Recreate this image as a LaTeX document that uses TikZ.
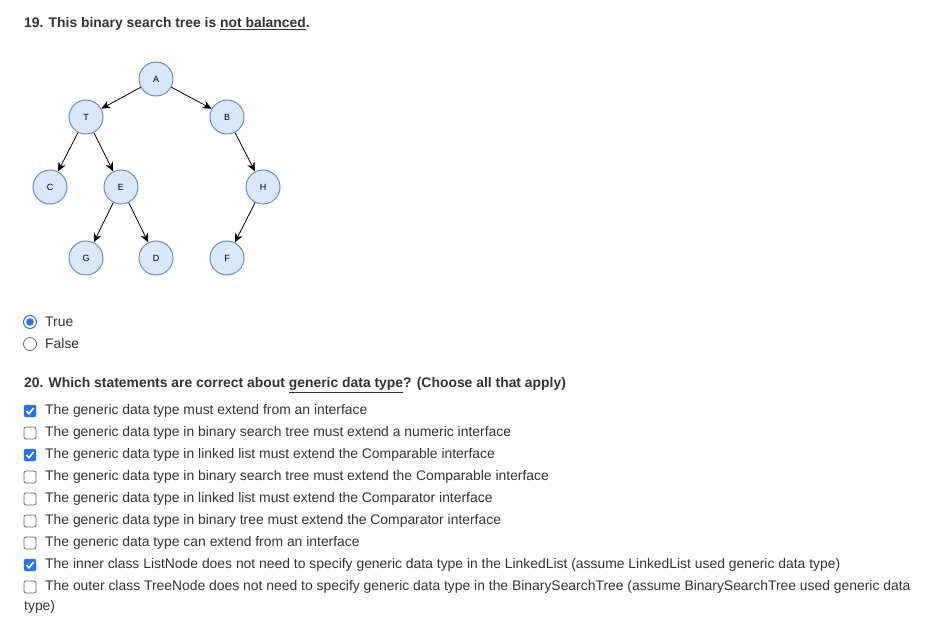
\documentclass[tikz,border=0pt]{standalone}
\usepackage{fontspec}
\setmainfont{Liberation Sans}
\usetikzlibrary{arrows.meta,calc}
\definecolor{txt}{HTML}{333333}
\definecolor{nfill}{HTML}{DAE8FC}
\definecolor{nline}{HTML}{6C8EBF}
\definecolor{chk}{HTML}{2A72E5}
\begin{document}
\begin{tikzpicture}[x=1pt,y=-1pt,
  tn/.style={circle,draw=nline,fill=nfill,minimum size=34pt,inner sep=0pt,line width=1pt,font=\fontsize{9}{10}\selectfont,text=black},
  ed/.style={-{Stealth[length=9pt,width=8pt]},black,line width=0.8pt},
  lbl/.style={anchor=west,inner sep=0pt,text=txt,font=\fontsize{13.9}{16}\selectfont},
  hd/.style={anchor=west,inner sep=0pt,text=txt,font=\fontsize{13.9}{16}\selectfont\bfseries},
  cbox/.style={draw=gray!80!black,fill=white,rounded corners=2pt,minimum size=12pt,inner sep=0pt,line width=0.8pt},
  cchk/.style={draw=chk,fill=chk,rounded corners=2pt,minimum size=12pt,inner sep=0pt},
  rad/.style={circle,draw=gray!80!black,fill=white,minimum size=13pt,inner sep=0pt,line width=0.8pt}]
\useasboundingbox (0,0) rectangle (943,622);
\node[hd] (title) at (24,24) {19. This binary search tree is \underline{not balanced}.};
\node[tn] (A) at (156,79) {A};
\node[tn] (T) at (86,117) {T};
\node[tn] (B) at (227,117) {B};
\node[tn] (C) at (50,187) {C};
\node[tn] (E) at (121,187) {E};
\node[tn] (H) at (263,187) {H};
\node[tn] (G) at (86,258) {G};
\node[tn] (D) at (156,258) {D};
\node[tn] (F) at (227,258) {F};
\foreach \a/\b in {A/T,A/B,T/C,T/E,E/G,E/D,B/H,H/F} \draw[ed] (\a) -- (\b);
\node[rad,draw=chk,line width=1pt] (r1) at (30,322) {};
\fill[chk] (r1) circle (3.8pt);
\node[lbl] (t1) at (45,322) {True};
\node[rad] (r2) at (30,344) {};
\node[lbl] (t2) at (45,344) {False};
\node[hd] (q20) at (24,385) {20. Which statements are correct about \underline{generic data type}? (Choose all that apply)};
\foreach \y/\c/\t in {
 411/1/The generic data type must extend from an interface,
 433/0/The generic data type in binary search tree must extend a numeric interface,
 455/1/The generic data type in linked list must extend the Comparable interface,
 477/0/The generic data type in binary search tree must extend the Comparable interface,
 499/0/The generic data type in linked list must extend the Comparator interface,
 521/0/The generic data type in binary tree must extend the Comparator interface,
 543/0/The generic data type can extend from an interface,
 565/1/The inner class ListNode does not need to specify generic data type in the LinkedList (assume LinkedList used generic data type),
 587/0/The outer class TreeNode does not need to specify generic data type in the BinarySearchTree (assume BinarySearchTree used generic data}{
  \ifnum\c=1
    \node[cchk] (b\y) at (30,\y) {};
    \draw[white,line width=1.6pt] ($(b\y)+(-3.5,0)$) -- ($(b\y)+(-1,2.8)$) -- ($(b\y)+(3.5,-3)$);
  \else
    \node[cbox] (b\y) at (30,\y) {};
  \fi
  \node[lbl] (l\y) at (45,\y) {\t};
}
\node[lbl] (last) at (24,607) {type)};
\end{tikzpicture}
\end{document}
